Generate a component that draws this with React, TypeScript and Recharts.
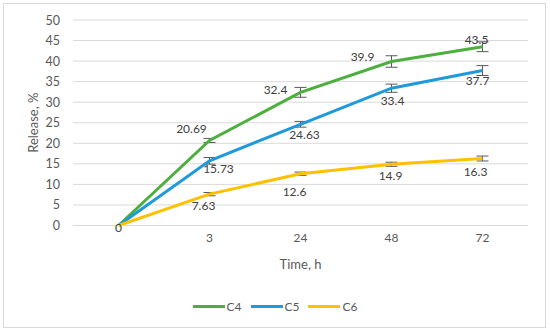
import React from 'react';
import {
  LineChart,
  Line,
  XAxis,
  YAxis,
  CartesianGrid,
  ErrorBar,
  LabelList,
  Legend,
} from 'recharts';

// time points (first category has no tick text in the original)
const TIMES = ['', '3', '24', '48', '72'];

const C4 = [0, 20.69, 32.4, 39.9, 43.5];
const C5 = [0, 15.73, 24.63, 33.4, 37.7];
const C6 = [0, 7.63, 12.6, 14.9, 16.3];

const C4_ERR = [0, 0.5, 1.2, 1.4, 1.2];
const C5_ERR = [0, 0.8, 0.7, 1.0, 1.2];
const C6_ERR = [0, 0.4, 0.4, 0.5, 0.6];

const Y_TICKS = [0, 5, 10, 15, 20, 25, 30, 35, 40, 45, 50];

const SERIES = [
  { key: 'C4', err: 'C4err', color: '#4CAF3E' },
  { key: 'C5', err: 'C5err', color: '#1E9ADB' },
  { key: 'C6', err: 'C6err', color: '#FFC000' },
];

// label offsets (dx, dy) from each point, like Excel's manual placement
const LABEL_OFFSETS: Record<string, [number, number][]> = {
  C4: [[0, 0], [-18, -12], [-25, -3], [-29, -5], [-6, -7]],
  C5: [[0, 0], [9, 8], [4, 10], [1, 12], [-5, 10]],
  C6: [[0, 2], [-6, 11], [-6, 18], [-1, 11], [-7, 13]],
};

const FONT = 'Lato, "Open Sans", sans-serif';
const TEXT = '#595959';

const chartData = TIMES.map((t, i) => ({
  time: t,
  C4: C4[i],
  C5: C5[i],
  C6: C6[i],
  C4err: C4_ERR[i],
  C5err: C5_ERR[i],
  C6err: C6_ERR[i],
}));

const makeLabel = (key: string) => (props: any) => {
  const { x, y, value, index } = props;
  // the three zero points overlap, show the "0" only once
  if (index === 0 && key !== 'C6') return null;
  const [dx, dy] = LABEL_OFFSETS[key][index];
  return (
    <text
      x={x + dx}
      y={y + dy}
      textAnchor="middle"
      dominantBaseline="central"
      fontSize={12}
      fontFamily={FONT}
      fill="#404040"
    >
      {value}
    </text>
  );
};

const YTick = ({ y, payload }: any) => (
  <text
    x={60}
    y={y}
    textAnchor="end"
    dominantBaseline="central"
    fontSize={12.5}
    fontFamily={FONT}
    fill={TEXT}
  >
    {payload.value}
  </text>
);

const LegendContent = () => (
  <div style={{ display: 'flex', justifyContent: 'center', fontFamily: FONT, fontSize: 12, color: TEXT, height: 18, alignItems: 'center' }}>
    {SERIES.map((s, i) => (
      <div key={s.key} style={{ display: 'flex', alignItems: 'center', marginRight: i < SERIES.length - 1 ? 9 : 0 }}>
        <div style={{ width: 32, height: 3, background: s.color, marginRight: 2 }} />
        <span>{s.key}</span>
      </div>
    ))}
  </div>
);

export default function App() {
  return (
    <div style={{ position: 'absolute', left: 0, top: 0, width: 550, height: 332, background: '#fff' }}>
      <div
        style={{
          position: 'absolute',
          left: 3,
          top: 3,
          width: 541,
          height: 323,
          border: '1px solid #d9d9d9',
        }}
      />
      <LineChart
        width={550}
        height={332}
        data={chartData}
        margin={{ top: 20, right: 22, left: 0, bottom: 17 }}
      >
        <CartesianGrid vertical={false} stroke="#d9d9d9" strokeWidth={1} />
        <XAxis
          dataKey="time"
          padding={{ left: 45.5, right: 45.5 }}
          axisLine={{ stroke: '#d9d9d9' }}
          tickLine={false}
          tick={{ fill: TEXT, fontSize: 12, fontFamily: FONT }}
          height={71.5}
          label={{ value: 'Time, h', position: 'insideTop', offset: 34, fill: TEXT, fontSize: 13, fontFamily: FONT }}
        />
        <YAxis
          domain={[0, 50]}
          ticks={Y_TICKS}
          interval={0}
          axisLine={false}
          tickLine={false}
          width={73}
          tick={<YTick />}
          label={{ value: 'Release, %', angle: -90, position: 'center', dx: -3, fill: TEXT, fontSize: 13, fontFamily: FONT }}
        />
        <Legend
          verticalAlign="bottom"
          content={<LegendContent />}
          wrapperStyle={{ bottom: 17, left: 0, width: 550 }}
        />
        {SERIES.map(s => (
          <Line
            key={s.key}
            type="linear"
            dataKey={s.key}
            stroke={s.color}
            strokeWidth={3}
            dot={false}
            activeDot={false}
            isAnimationActive={false}
          >
            <ErrorBar dataKey={s.err} width={6} stroke="#595959" strokeWidth={1} isAnimationActive={false} />
            <LabelList dataKey={s.key} content={makeLabel(s.key)} />
          </Line>
        ))}
      </LineChart>
    </div>
  );
}
